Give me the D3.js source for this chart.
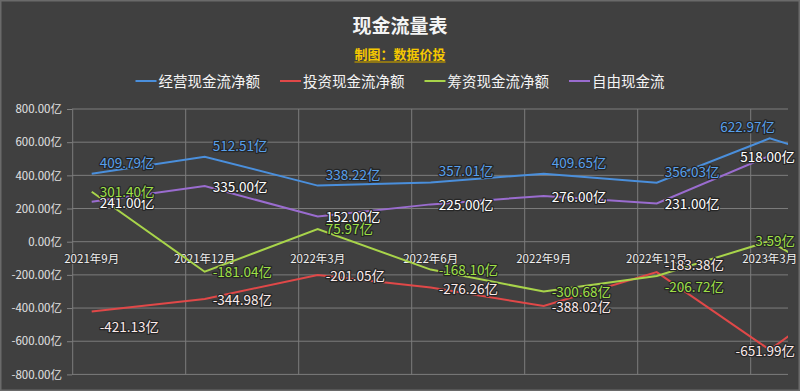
<!DOCTYPE html>
<html><head><meta charset="utf-8">
<script src="https://cdn.jsdelivr.net/npm/d3@7"></script>
<style>
html,body{margin:0;padding:0;background:#404040;}
svg{display:block;font-family:"Noto Sans CJK SC","Noto Sans",sans-serif;}
</style></head>
<body><svg id="c" width="800" height="391"></svg>
<script>
// ---- data ----
const categories = ["2021年9月","2021年12月","2022年3月","2022年6月","2022年9月","2022年12月","2023年3月",""];
const operatingCF = [409.79, 512.51, 338.22, 357.01, 409.65, 356.03, 622.97, 411];
const investingCF = [-421.13, -344.98, -201.05, -276.26, -388.02, -183.38, -651.99, -158];
const financingCF = [301.40, -181.04, 75.97, -168.10, -300.68, -206.72, 3.59, -398];
const freeCF = [241.00, 335.00, 152.00, 225.00, 276.00, 231.00, 518.00];
const seriesNames = ["经营现金流净额","投资现金流净额","筹资现金流净额","自由现金流"];
const yTicks = [800, 600, 400, 200, 0, -200, -400, -600, -800];
const labeledCount = 7; // categories shown with labels

// ---- style / layout ----
const W = 800, H = 391;
const L = 72, R = 788, T = 109, B = 374.4;
const lineColors = ["#4a8fdc", "#e04848", "#a8d44a", "#9a6ccf"];
const labelColors = ["#58a0ec", "#fbeaea", "#9fe046", "#ffffff"];
const labelDy = [-6, 6, 5, 6];
const nudges = { "0-6": {dx: -20}, "1-0": {dy: 14}, "1-5": {dy: -8}, "2-5": {dy: 11} };
const fmt = v => d3.format(".2f")(v).replace("\u2212", "-") + "亿";

const svg = d3.select("#c");
svg.append("rect").attr("x",0.75).attr("y",0.75).attr("width",W-1.5).attr("height",H-1.5)
  .attr("fill","#404040").attr("stroke","#6a6a6a").attr("stroke-width",1.5);

const x = d3.scaleLinear().domain([(L-91.7)/113, (R-91.7)/113]).range([L, R]);
const y = d3.scaleLinear().domain([-800, 800]).range([B, T]);
const gridShift = -19/113;

// horizontal grid + y labels
const yAxis = d3.axisLeft(y).tickValues(yTicks).tickSize(5).tickFormat(fmt);
const gy = svg.append("g").attr("transform", `translate(${L},0)`).call(yAxis);
gy.select(".domain").remove();
gy.selectAll(".tick line").attr("stroke","#808080");
gy.selectAll(".tick text").attr("fill","#e2e2e2").attr("font-size","11.5px").attr("x",-10)
  .attr("font-family","Noto Sans CJK SC, sans-serif");
svg.append("g").selectAll("line").data(yTicks).join("line")
  .attr("x1",L).attr("x2",R).attr("y1",d=>y(d)).attr("y2",d=>y(d))
  .attr("stroke","#7c7c7c").attr("stroke-width",1);

// vertical grid
const idx = d3.range(labeledCount);
svg.append("g").selectAll("line").data(idx).join("line")
  .attr("x1",d=>x(d+gridShift)).attr("x2",d=>x(d+gridShift)).attr("y1",T).attr("y2",B)
  .attr("stroke","#7c7c7c").attr("stroke-width",1);

// x labels near zero line
svg.append("g").selectAll("text").data(idx).join("text")
  .attr("x",d=>x(d)).attr("y",y(0)+21).attr("text-anchor","middle")
  .attr("fill","#f0f0f0").attr("font-size","11.5px")
  .attr("stroke","#333").attr("stroke-width",2).attr("paint-order","stroke")
  .text(d=>categories[d]);

// clip
svg.append("clipPath").attr("id","plot").append("rect")
  .attr("x",L).attr("y",T-20).attr("width",R-L).attr("height",B-T+40);

const allSeries = [operatingCF, investingCF, financingCF, freeCF];
const line = d3.line().x((d,i)=>x(i)).y(d=>y(d));
const gl = svg.append("g").attr("clip-path","url(#plot)");
allSeries.forEach((s,k)=>{
  gl.append("path").datum(s).attr("d",line).attr("fill","none")
    .attr("stroke",lineColors[k]).attr("stroke-width",2);
});

// data labels
const gLab = svg.append("g");
[3,0,1,2].forEach(k=>{
  const s = allSeries[k];
  s.slice(0,labeledCount).forEach((v,i)=>{
    const n = nudges[k+"-"+i] || {};
    const t = gLab.append("text")
      .attr("x", x(i)+8).attr("y", y(v)+labelDy[k]+(n.dy||0))
      .attr("fill",labelColors[k]).attr("font-size","13.5px")
      .attr("stroke","#262626").attr("stroke-width",2.5).attr("paint-order","stroke")
      .attr("stroke-linejoin","round")
      .text(fmt(v));
    const w = t.node().getComputedTextLength();
    let tx = x(i)+8;
    if (tx + w > 795) tx = 795 - w;
    tx += (n.dx||0);
    t.attr("x", tx);
  });
});

// title & subtitle
svg.append("text").attr("x",W/2).attr("y",33).attr("text-anchor","middle")
  .attr("fill","#f4f4f4").attr("font-size","19px").attr("font-weight","bold").text("现金流量表");
const sub = svg.append("text").attr("x",W/2).attr("y",59).attr("text-anchor","middle")
  .attr("fill","#f6c800").attr("font-size","13px").attr("font-weight","bold").text("制图：数据价投");
const sw = sub.node().getComputedTextLength();
svg.append("line").attr("x1",W/2-sw/2).attr("x2",W/2+sw/2).attr("y1",62).attr("y2",62)
  .attr("stroke","#a8890a").attr("stroke-width",1.5);

// legend
const lg = svg.append("g");
let cx = 0;
seriesNames.forEach((name,k)=>{
  const g = lg.append("g").attr("transform",`translate(${cx},0)`);
  g.append("line").attr("x1",0).attr("x2",21).attr("y1",81).attr("y2",81)
    .attr("stroke",lineColors[k]).attr("stroke-width",2);
  const t = g.append("text").attr("x",23).attr("y",86.5).attr("fill","#f4f4f4")
    .attr("font-size","14.5px").text(name);
  const w = t.node().getComputedTextLength();
  cx += 23 + w + 20;
});
const totalW = cx - 20;
lg.attr("transform",`translate(${W/2 - totalW/2},0)`);
</script></body></html>
